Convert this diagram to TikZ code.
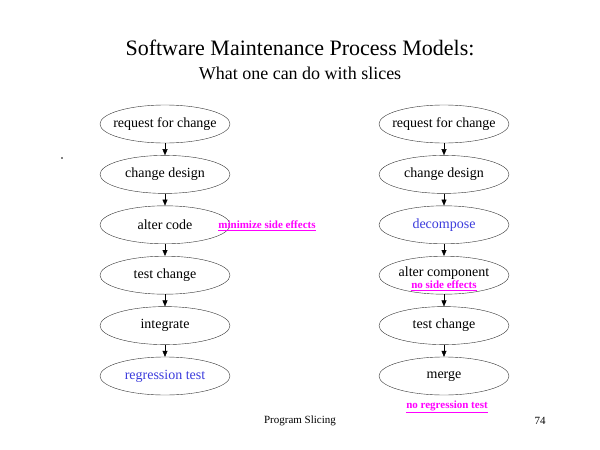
\documentclass[tikz,border=0pt]{standalone}
\usepackage{fontspec}
\setmainfont{Liberation Serif}
\usetikzlibrary{shapes.geometric,positioning,arrows.meta}

\definecolor{sliceblue}{RGB}{60,60,220}
\definecolor{notemagenta}{RGB}{255,0,255}

\tikzset{
  process/.style={ellipse,draw=black!80,thin,minimum width=130pt,minimum height=38pt,inner xsep=-20pt,inner ysep=0pt,font=\fontsize{14}{16}\selectfont},
  flow/.style={-{Triangle[length=6pt,width=5pt]},thin},
  note/.style={text=notemagenta,font=\fontsize{11}{13}\bfseries\selectfont,inner sep=0pt}
}

\begin{document}
\begin{tikzpicture}[x=1pt,y=1pt,node distance=12pt]
  \useasboundingbox (0,0) rectangle (600,-450);

  \node (title) at (300,-48) {\fontsize{22}{26}\selectfont Software Maintenance Process Models:};
  \node (subtitle) at (300,-73) {\fontsize{18}{22}\selectfont What one can do with slices};
  \node[circle,fill,inner sep=0.6pt] (bullet) at (62,-158) {};

  % left column
  \node[process] (request) at (165,-124) {request for change};
  \node[process] (design) [below=of request] {change design};
  \node[process] (alter) [below=of design] {alter code};
  \node[process] (test) [below=of alter] {test change};
  \node[process] (integrate) [below=of test] {integrate};
  \node[process,text=sliceblue] (regression) [below=of integrate] {regression test};
  \node[note] (minimize) at (267,-226) {\underline{minimize side effects}};

  \draw[flow] (request) -- (design);
  \draw[flow] (design) -- (alter);
  \draw[flow] (alter) -- (test);
  \draw[flow] (test) -- (integrate);
  \draw[flow] (integrate) -- (regression);

  % right column
  \node[process] (request_r) at (444,-124) {request for change};
  \node[process] (design_r) [below=of request_r] {change design};
  \node[process,text=sliceblue] (decompose) [below=of design_r] {decompose};
  \node[process] (component) [below=of decompose] {\raisebox{7pt}{alter component}};
  \node[process] (test_r) [below=of component] {test change};
  \node[process] (merge) [below=of test_r] {merge};
  \node[note] (noside) at (444,-286) {\underline{no side effects}};
  \node[note] (noregression) at (447,-407) {\underline{no regression test}};

  \draw[flow] (request_r) -- (design_r);
  \draw[flow] (design_r) -- (decompose);
  \draw[flow] (decompose) -- (component);
  \draw[flow] (component) -- (test_r);
  \draw[flow] (test_r) -- (merge);

  % footer
  \node (footer) at (300,-421) {\fontsize{11}{13}\selectfont Program Slicing};
  \node (page) at (540,-421) {\fontsize{11}{13}\selectfont 74};
\end{tikzpicture}
\end{document}
